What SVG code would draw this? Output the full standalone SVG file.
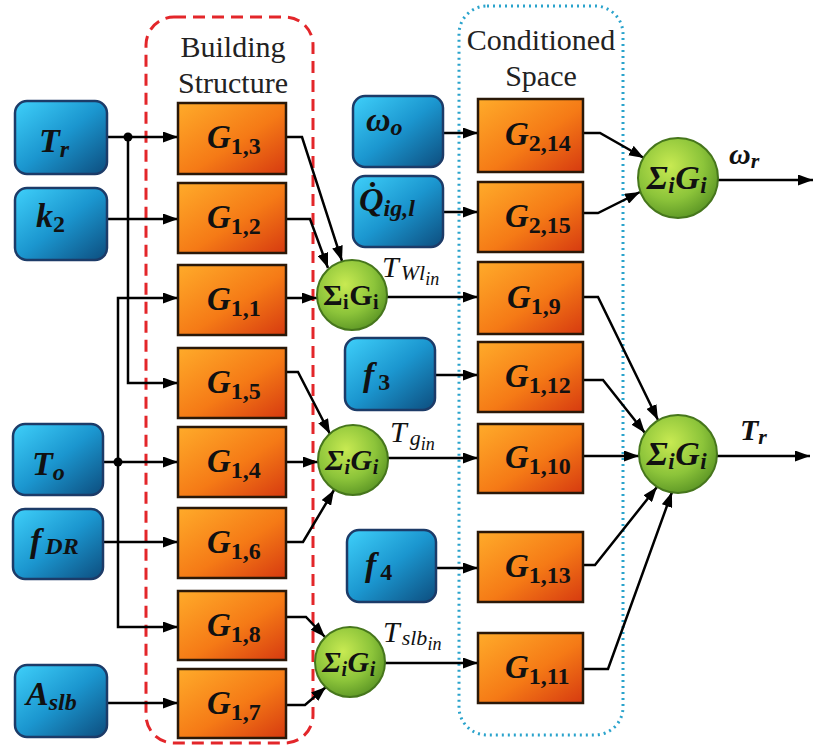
<svg xmlns="http://www.w3.org/2000/svg" width="833" height="748" viewBox="0 0 833 748">
<defs>
  <linearGradient id="gBlue" x1="0" y1="0" x2="1" y2="1">
    <stop offset="0" stop-color="#3fd0fa"/>
    <stop offset="0.5" stop-color="#1b96cf"/>
    <stop offset="1" stop-color="#0d4d7e"/>
  </linearGradient>
  <linearGradient id="gOrange" x1="0" y1="0" x2="1" y2="1">
    <stop offset="0" stop-color="#ffab2a"/>
    <stop offset="0.55" stop-color="#f57a16"/>
    <stop offset="1" stop-color="#d63a10"/>
  </linearGradient>
  <radialGradient id="gGreen" cx="0.4" cy="0.35" r="0.7">
    <stop offset="0" stop-color="#c8ea52"/>
    <stop offset="0.6" stop-color="#8cc43a"/>
    <stop offset="1" stop-color="#5a9424"/>
  </radialGradient>
  <marker id="arr" markerUnits="userSpaceOnUse" markerWidth="15" markerHeight="11" refX="15" refY="5.5" orient="auto">
    <path d="M0,0 L15,5.5 L0,11 z" fill="#000"/>
  </marker>
  <style>
    .blue{fill:url(#gBlue);stroke:#1c3b68;stroke-width:2.5}
    .org{fill:url(#gOrange);stroke:#2a1808;stroke-width:2.5}
    .sum{fill:url(#gGreen);stroke:#46761c;stroke-width:2}
    .con{fill:none;stroke:#000;stroke-width:2.5;marker-end:url(#arr)}
    .math{font-family:'Liberation Serif',serif;font-weight:bold;font-style:italic;fill:#111}
    .gl{font-size:33px}
    .gs{font-size:24px;font-style:normal}
    .bl{font-size:34px}
    .bs{font-size:24px}
    .title{font-family:'Liberation Serif',serif;font-size:30px;fill:#222;text-anchor:middle}
    .edge{font-family:'Liberation Serif',serif;font-style:italic;fill:#111;font-size:30px}
    .es{font-size:22px}
    .ess{font-size:18px}
    .sl{font-family:'Liberation Serif',serif;font-weight:bold;fill:#111;text-anchor:middle}
  </style>
</defs>
<rect x="0" y="0" width="833" height="748" fill="#ffffff"/>

<g id="containers">
  <rect id="building-structure" x="146" y="17" width="167" height="726" rx="28" fill="none" stroke="#e3262a" stroke-width="3" stroke-dasharray="12,7"/>
  <rect id="conditioned-space" x="459" y="6" width="164" height="729" rx="28" fill="none" stroke="#2aa3cc" stroke-width="3" stroke-dasharray="2,4"/>
  <text class="title" x="233" y="57">Building</text>
  <text class="title" x="233" y="93">Structure</text>
  <text class="title" x="541" y="50">Conditioned</text>
  <text class="title" x="541" y="86">Space</text>
</g>

<g id="connectors">
  <path class="con" d="M107,137 H178"/>
  <path class="con" d="M128,137 V383 H178"/>
  <path class="con" d="M107,219 H178"/>
  <path class="con" d="M103,462 H178"/>
  <path class="con" d="M118,462 V298 H178"/>
  <path class="con" d="M118,462 V627 H178"/>
  <path class="con" d="M103,542 H178"/>
  <path class="con" d="M107,703 H178"/>
  <circle cx="128" cy="137" r="4.5" fill="#000"/>
  <circle cx="118" cy="462" r="4.5" fill="#000"/>

  <path class="con" d="M286,137 H302 L342,261"/>
  <path class="con" d="M286,219 H310 L328,268"/>
  <path class="con" d="M286,298 H317"/>
  <path class="con" d="M387,297 H478"/>

  <path class="con" d="M286,372 H298 L330,434"/>
  <path class="con" d="M286,462 H318"/>
  <path class="con" d="M286,542 H303 L334,490"/>
  <path class="con" d="M388,458 H478"/>

  <path class="con" d="M286,617 H306 L325,637"/>
  <path class="con" d="M286,705 H305 L326,687"/>
  <path class="con" d="M385,663 H478"/>

  <path class="con" d="M443,133 H478"/>
  <path class="con" d="M443,212 H478"/>
  <path class="con" d="M435,375 H478"/>
  <path class="con" d="M436,568 H478"/>

  <path class="con" d="M583,133 H600 L644,158"/>
  <path class="con" d="M583,213 H598 L640,192"/>
  <path class="con" d="M718,180 H813"/>

  <path class="con" d="M583,297 H598 L658,420"/>
  <path class="con" d="M583,380 H603 L645,433"/>
  <path class="con" d="M583,456 H639"/>
  <path class="con" d="M583,565 H595 L657,487"/>
  <path class="con" d="M583,669 H608 L672,492"/>
  <path class="con" d="M717,456 H810"/>
</g>

<g id="inputs">
  <g id="Tr-in"><rect class="blue" x="15" y="101" width="92" height="73" rx="12"/>
    <text class="math bl" x="39" y="152">T<tspan class="bs" dy="5">r</tspan></text></g>
  <g id="k2"><rect class="blue" x="15" y="188" width="92" height="72" rx="12"/>
    <text class="math bl" x="36" y="227">k<tspan class="bs" dy="5" font-style="normal">2</tspan></text></g>
  <g id="To"><rect class="blue" x="13" y="424" width="90" height="71" rx="12"/>
    <text class="math bl" x="32" y="475">T<tspan class="bs" dy="5">o</tspan></text></g>
  <g id="fDR"><rect class="blue" x="13" y="509" width="90" height="70" rx="12"/>
    <text class="math bl" x="30" y="552">f<tspan class="bs" dx="4" dy="2">DR</tspan></text></g>
  <g id="Aslb"><rect class="blue" x="15" y="665" width="92" height="72" rx="12"/>
    <text class="math bl" x="26" y="705">A<tspan class="bs" dy="5">slb</tspan></text></g>
  <g id="wo"><rect class="blue" x="353" y="96" width="90" height="71" rx="12"/>
    <text class="math bl" x="366" y="131">ω<tspan class="bs" dy="4">o</tspan></text></g>
  <g id="Qig"><rect class="blue" x="353" y="176" width="90" height="71" rx="12"/>
    <text class="math bl" x="359" y="211">Q̇<tspan class="bs" dy="5">ig,l</tspan></text></g>
  <g id="f3"><rect class="blue" x="345" y="338" width="90" height="72" rx="12"/>
    <text class="math bl" x="363" y="386">f<tspan class="bs" dx="4" dy="4" font-style="normal">3</tspan></text></g>
  <g id="f4"><rect class="blue" x="347" y="530" width="89" height="72" rx="12"/>
    <text class="math bl" x="365" y="576">f<tspan class="bs" dx="4" dy="4" font-style="normal">4</tspan></text></g>
</g>

<g id="blocks">
  <g id="G13"><rect class="org" x="178" y="103" width="108" height="71"/>
    <text class="math gl" x="207" y="148">G<tspan class="gs" dy="6">1,3</tspan></text></g>
  <g id="G12"><rect class="org" x="178" y="183" width="108" height="70"/>
    <text class="math gl" x="207" y="228">G<tspan class="gs" dy="6">1,2</tspan></text></g>
  <g id="G11"><rect class="org" x="178" y="265" width="108" height="70"/>
    <text class="math gl" x="207" y="310">G<tspan class="gs" dy="6">1,1</tspan></text></g>
  <g id="G15"><rect class="org" x="178" y="348" width="108" height="70"/>
    <text class="math gl" x="207" y="393">G<tspan class="gs" dy="6">1,5</tspan></text></g>
  <g id="G14"><rect class="org" x="178" y="427" width="108" height="70"/>
    <text class="math gl" x="207" y="472">G<tspan class="gs" dy="6">1,4</tspan></text></g>
  <g id="G16"><rect class="org" x="178" y="508" width="108" height="70"/>
    <text class="math gl" x="207" y="553">G<tspan class="gs" dy="6">1,6</tspan></text></g>
  <g id="G18"><rect class="org" x="178" y="591" width="108" height="69"/>
    <text class="math gl" x="207" y="636">G<tspan class="gs" dy="6">1,8</tspan></text></g>
  <g id="G17"><rect class="org" x="178" y="669" width="108" height="69"/>
    <text class="math gl" x="207" y="714">G<tspan class="gs" dy="6">1,7</tspan></text></g>

  <g id="G214"><rect class="org" x="478" y="99" width="105" height="73"/>
    <text class="math gl" x="505" y="145">G<tspan class="gs" dy="6">2,14</tspan></text></g>
  <g id="G215"><rect class="org" x="478" y="182" width="105" height="70"/>
    <text class="math gl" x="505" y="227">G<tspan class="gs" dy="6">2,15</tspan></text></g>
  <g id="G19"><rect class="org" x="478" y="262" width="105" height="72"/>
    <text class="math gl" x="507" y="308">G<tspan class="gs" dy="6">1,9</tspan></text></g>
  <g id="G112"><rect class="org" x="478" y="342" width="105" height="70"/>
    <text class="math gl" x="505" y="387">G<tspan class="gs" dy="6">1,12</tspan></text></g>
  <g id="G110"><rect class="org" x="478" y="424" width="105" height="69"/>
    <text class="math gl" x="505" y="468">G<tspan class="gs" dy="6">1,10</tspan></text></g>
  <g id="G113"><rect class="org" x="478" y="532" width="105" height="70"/>
    <text class="math gl" x="505" y="577">G<tspan class="gs" dy="6">1,13</tspan></text></g>
  <g id="G111"><rect class="org" x="478" y="633" width="105" height="70"/>
    <text class="math gl" x="505" y="678">G<tspan class="gs" dy="6">1,11</tspan></text></g>
</g>

<g id="sums">
  <g id="sum-wl"><circle class="sum" cx="352" cy="295" r="35"/>
    <text class="sl" x="351" y="305" font-size="30" letter-spacing="0.5">Σ<tspan font-size="20" dy="4">i</tspan><tspan dy="-4">G</tspan><tspan font-size="20" dy="4">i</tspan></text></g>
  <g id="sum-g"><circle class="sum" cx="353" cy="460" r="35"/>
    <text class="sl" x="352" y="470" font-size="30" font-style="italic" letter-spacing="0.5">Σ<tspan font-size="20" dy="4">i</tspan><tspan dy="-4">G</tspan><tspan font-size="20" dy="4">i</tspan></text></g>
  <g id="sum-slb"><circle class="sum" cx="350" cy="662" r="35"/>
    <text class="sl" x="349" y="672" font-size="30" font-style="italic" letter-spacing="0.5">Σ<tspan font-size="20" dy="4">i</tspan><tspan dy="-4">G</tspan><tspan font-size="20" dy="4">i</tspan></text></g>
  <g id="sum-w"><circle class="sum" cx="678" cy="178" r="40"/>
    <text class="sl" x="677" y="189" font-size="34" font-style="italic" letter-spacing="0.5">Σ<tspan font-size="23" dy="4">i</tspan><tspan dy="-4">G</tspan><tspan font-size="23" dy="4">i</tspan></text></g>
  <g id="sum-T"><circle class="sum" cx="678" cy="454" r="39"/>
    <text class="sl" x="677" y="465" font-size="34" font-style="italic" letter-spacing="0.5">Σ<tspan font-size="23" dy="4">i</tspan><tspan dy="-4">G</tspan><tspan font-size="23" dy="4">i</tspan></text></g>
</g>

<g id="edge-labels">
  <text class="edge" x="382" y="277">T<tspan class="es" dx="2" dy="3">Wl</tspan><tspan class="ess" dy="5">in</tspan></text>
  <text class="edge" x="390" y="442">T<tspan class="es" dx="3" dy="3">g</tspan><tspan class="ess" dy="5">in</tspan></text>
  <text class="edge" x="383" y="642">T<tspan class="es" dx="2" dy="3">slb</tspan><tspan class="ess" dy="5">in</tspan></text>
  <text class="edge" x="729" y="164" font-weight="bold" font-size="30">ω<tspan class="es" dy="4">r</tspan></text>
  <text class="edge" x="740" y="440" font-weight="bold" font-size="32">T<tspan class="es" dy="4">r</tspan></text>
</g>
</svg>
